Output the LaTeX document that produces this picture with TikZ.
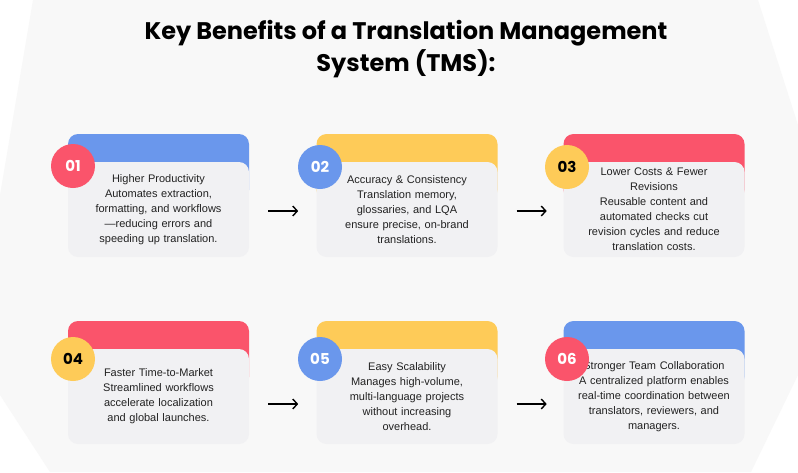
\documentclass[tikz,border=0pt]{standalone}
\usepackage{fontspec}
\setmainfont{Liberation Sans}
\newfontfamily\titlefont{Poppins}
\usetikzlibrary{arrows.meta}
\definecolor{bgc}{HTML}{F8F8F8}
\definecolor{cardc}{HTML}{F1F1F3}
\definecolor{cblue}{HTML}{6A97EC}
\definecolor{cyel}{HTML}{FECB58}
\definecolor{cred}{HTML}{FA546B}
\definecolor{txt}{HTML}{222222}
\tikzset{
  tabbox/.style={rectangle, rounded corners=10pt, minimum width=181pt, minimum height=66pt, inner sep=0pt},
  cardbox/.style={rectangle, rounded corners=10pt, fill=cardc, minimum width=181pt, minimum height=95pt, inner sep=0pt, text width=172pt, align=center, font=\fontsize{11}{15}\selectfont, text=txt},
  numc/.style={circle, minimum size=44pt, inner sep=0pt, font=\titlefont\bfseries\fontsize{15}{15}\selectfont},
  arr/.style={line width=1.4pt, -{Straight Barb[length=4.5pt,width=10pt]}}
}
\begin{document}
\begin{tikzpicture}[x=1pt,y=-1pt]
\useasboundingbox (0,0) rectangle (798,472);
\fill[white] (0,0) rectangle (798,472);
\fill[bgc] (33,0) -- (758,0) -- (798,125) -- (798,375) -- (751,472) -- (50,472) -- (0,395) -- (0,195) -- cycle;
\node[font=\titlefont\bfseries\fontsize{24}{32}\selectfont, align=center] (title) at (406,49) {Key Benefits of a Translation Management\\System (TMS):};
% row 1
\node[tabbox, fill=cblue] (t1) at (158.5,167) {};
\node[cardbox] (c1) at (158.5,209.5) {Higher Productivity\\Automates extraction,\\formatting, and workflows\\—reducing errors and\\speeding up translation.};
\node[numc, fill=cred, text=white] (n1) at (73,166) {01};
\node[tabbox, fill=cyel] (t2) at (407,167) {};
\node[cardbox] (c2) at (407,209.5) {Accuracy \& Consistency\\Translation memory,\\glossaries, and LQA\\ensure precise, on-brand\\translations.};
\node[numc, fill=cblue, text=white] (n2) at (320,167) {02};
\node[tabbox, fill=cred] (t3) at (654,167) {};
\node[cardbox] (c3) at (654,209.5) {Lower Costs \& Fewer\\Revisions\\Reusable content and\\automated checks cut\\revision cycles and reduce\\translation costs.};
\node[numc, fill=cyel, text=black] (n3) at (567,167) {03};
% row 2
\node[tabbox, fill=cred] (t4) at (158.5,354) {};
\node[cardbox] (c4) at (158.5,396.5) {Faster Time-to-Market\\Streamlined workflows\\accelerate localization\\and global launches.};
\node[numc, fill=cyel, text=black] (n4) at (73,359) {04};
\node[tabbox, fill=cyel] (t5) at (407,354) {};
\node[cardbox] (c5) at (407,396.5) {Easy Scalability\\Manages high-volume,\\multi-language projects\\without increasing\\overhead.};
\node[numc, fill=cblue, text=white] (n5) at (320,359) {05};
\node[tabbox, fill=cblue] (t6) at (654,354) {};
\node[cardbox] (c6) at (654,396.5) {Stronger Team Collaboration\\A centralized platform enables\\real-time coordination between\\translators, reviewers, and\\managers.};
\node[numc, fill=cred, text=white] (n6) at (567,359) {06};
% arrows
\draw[arr] ([xshift=19pt,yshift=-1.5pt]c1.east) -- ([xshift=49pt,yshift=-1.5pt]c1.east);
\draw[arr] ([xshift=19pt,yshift=-1.5pt]c2.east) -- ([xshift=49pt,yshift=-1.5pt]c2.east);
\draw[arr] ([xshift=19pt,yshift=-7.5pt]c4.east) -- ([xshift=49pt,yshift=-7.5pt]c4.east);
\draw[arr] ([xshift=19pt,yshift=-7.5pt]c5.east) -- ([xshift=49pt,yshift=-7.5pt]c5.east);
\end{tikzpicture}
\end{document}
